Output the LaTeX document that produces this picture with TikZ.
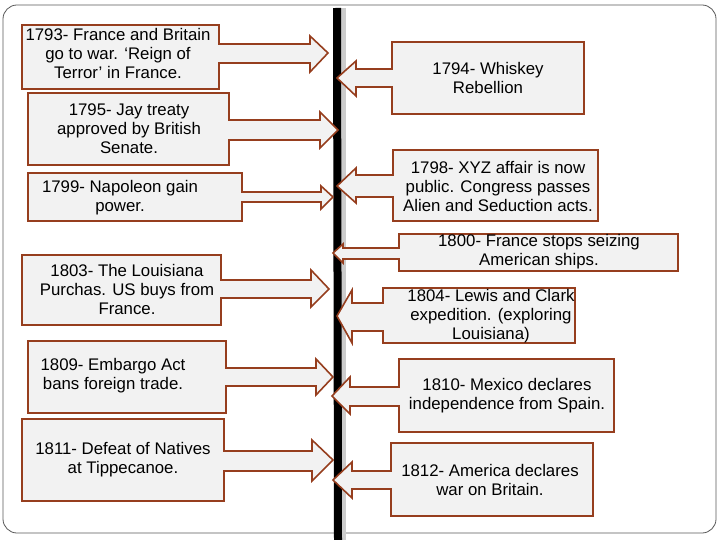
\documentclass[tikz,border=0pt]{standalone}
\usepackage{fontspec}
\setmainfont{Liberation Sans}
\definecolor{co}{RGB}{150,62,30}
\definecolor{cf}{RGB}{242,242,242}
\tikzset{callout/.style={draw=co,fill=cf,line width=1.6pt,line join=miter},
  txt/.style={align=center,font=\fontsize{16.8}{19}\selectfont,inner sep=0pt}}
\begin{document}
\begin{tikzpicture}[x=1pt,y=-1pt]
\useasboundingbox (0,0) rectangle (720,540);
\draw[gray!70!black,line width=0.8pt,rounded corners=14pt] (3,5) rectangle (716,533);
\fill[gray!40] (340,8) rectangle (346,540);
\draw[line width=8pt] (337,8) -- (338,540);
% left callouts
\draw[callout] (22,25)--(219,25)--(219,44)--(310,44)--(310,36)--(328,53)--(310,72)--(310,63)--(219,63)--(219,89)--(22,89)--cycle;
\draw[callout] (28,93)--(229,93)--(229,120)--(320,120)--(320,112)--(338,130)--(320,148)--(320,140)--(229,140)--(229,165)--(28,165)--cycle;
\draw[callout] (28,173)--(242,173)--(242,192)--(321,192)--(321,186)--(333,197)--(321,209)--(321,202)--(242,202)--(242,221)--(28,221)--cycle;
\draw[callout] (22,255)--(221,255)--(221,280)--(311,280)--(311,270)--(329,289)--(311,307)--(311,298)--(221,298)--(221,325)--(22,325)--cycle;
\draw[callout] (28,341)--(226,341)--(226,368)--(316,368)--(316,359)--(333,377)--(316,395)--(316,386)--(226,386)--(226,413)--(28,413)--cycle;
\draw[callout] (22,419)--(224,419)--(224,451)--(312,451)--(312,440)--(333,460)--(312,481)--(312,471)--(224,471)--(224,501)--(22,501)--cycle;
% right callouts
\draw[callout] (584,42)--(392,42)--(392,69)--(356,69)--(356,61)--(337,78)--(356,96)--(356,87)--(392,87)--(392,114)--(584,114)--cycle;
\draw[callout] (598,150)--(393,150)--(393,175)--(356,175)--(356,168)--(337,186)--(356,203)--(356,197)--(393,197)--(393,221)--(598,221)--cycle;
\draw[callout] (678,234)--(399,234)--(399,248)--(343,248)--(343,244)--(333,253)--(343,263)--(343,259)--(399,259)--(399,271)--(678,271)--cycle;
\draw[callout] (575,288)--(383,288)--(383,303)--(352,303)--(352,290)--(337,316)--(352,343)--(352,331)--(383,331)--(383,343)--(575,343)--cycle;
\draw[callout] (614,359)--(399,359)--(399,387)--(350,387)--(350,377)--(332,396)--(350,414)--(350,406)--(399,406)--(399,432)--(614,432)--cycle;
\draw[callout] (593,443)--(391,443)--(391,471)--(352,471)--(352,462)--(333,480)--(352,498)--(352,489)--(391,489)--(391,516)--(593,516)--cycle;
% texts
\node[txt] (l1) at (118,53) {1793- France and Britain\\go to war. ‘Reign of\\Terror’ in France.};
\node[txt] (l2) at (129,129) {1795- Jay treaty\\approved by British\\Senate.};
\node[txt] (l3) at (120,198) {1799- Napoleon gain\\power.};
\node[txt] (l4) at (127,289) {1803- The Louisiana\\Purchas. US buys from\\France.};
\node[txt] (l5) at (113,376) {1809- Embargo Act\\bans foreign trade.};
\node[txt] (l6) at (123,460) {1811- Defeat of Natives\\at Tippecanoe.};
\node[txt] (r1) at (488,78) {1794- Whiskey\\Rebellion};
\node[txt] (r2) at (498,186) {1798- XYZ affair is now\\public. Congress passes\\Alien and Seduction acts.};
\node[txt] (r3) at (539,252) {1800- France stops seizing\\American ships.};
\node[txt] (r4) at (491,316) {1804- Lewis and Clark\\expedition. (exploring\\Louisiana)};
\node[txt] (r5) at (507,396) {1810- Mexico declares\\independence from Spain.};
\node[txt] (r6) at (490,480) {1812- America declares\\war on Britain.};
\end{tikzpicture}
\end{document}
